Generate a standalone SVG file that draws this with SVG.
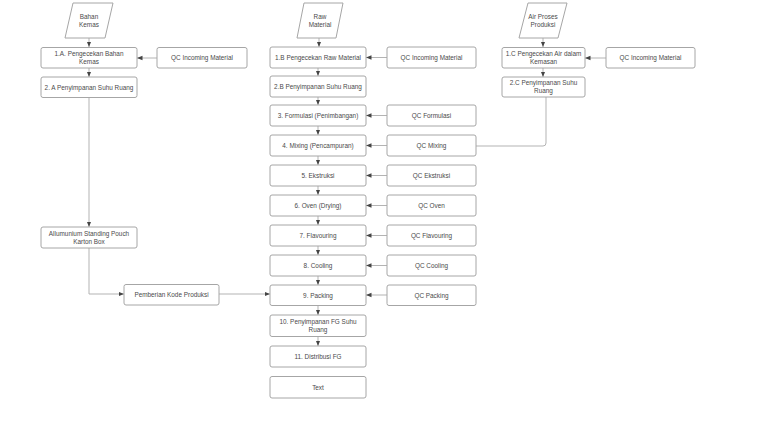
<svg xmlns="http://www.w3.org/2000/svg" width="768" height="433" viewBox="0 0 768 433">
<style>
.b{fill:#fff;stroke:#a6a6a6;stroke-width:1}
.t{font-family:"Liberation Sans",Arial,sans-serif;font-size:6.4px;fill:#4a4a4a;text-anchor:middle}
.c{fill:none;stroke:#b3b3b3;stroke-width:1}
</style>
<defs>
<marker id="ah" markerUnits="userSpaceOnUse" markerWidth="6" markerHeight="6" viewBox="0 0 6 6" refX="5.5" refY="3" orient="auto">
<path d="M0,0.8 L5.5,3 L0,5.2 Z" fill="#444"/>
</marker>
</defs>
<rect width="768" height="433" fill="#fff"/>
<g id="connectors">
<path class="c" d="M89,38 V47" marker-end="url(#ah)"/>
<path class="c" d="M89,68 V77" marker-end="url(#ah)"/>
<path class="c" d="M89,97 V227" marker-end="url(#ah)"/>
<path class="c" d="M89,248 V294 H124" marker-end="url(#ah)"/>
<path class="c" d="M219,294 H270" marker-end="url(#ah)"/>
<path class="c" d="M157,58 H137" marker-end="url(#ah)"/>
<path class="c" d="M319,38 V47" marker-end="url(#ah)"/>
<path class="c" d="M318,68 V76" marker-end="url(#ah)"/>
<path class="c" d="M318,97 V105" marker-end="url(#ah)"/>
<path class="c" d="M318,126 V135" marker-end="url(#ah)"/>
<path class="c" d="M318,156 V165" marker-end="url(#ah)"/>
<path class="c" d="M318,186 V195" marker-end="url(#ah)"/>
<path class="c" d="M318,216 V225" marker-end="url(#ah)"/>
<path class="c" d="M318,246 V255" marker-end="url(#ah)"/>
<path class="c" d="M318,276 V285" marker-end="url(#ah)"/>
<path class="c" d="M318,306 V315" marker-end="url(#ah)"/>
<path class="c" d="M318,336 V346" marker-end="url(#ah)"/>
<path class="c" d="M387,57.5 H366" marker-end="url(#ah)"/>
<path class="c" d="M387,115.5 H366" marker-end="url(#ah)"/>
<path class="c" d="M387,145.5 H366" marker-end="url(#ah)"/>
<path class="c" d="M387,175.5 H366" marker-end="url(#ah)"/>
<path class="c" d="M387,205.5 H366" marker-end="url(#ah)"/>
<path class="c" d="M387,235.5 H366" marker-end="url(#ah)"/>
<path class="c" d="M387,265.5 H366" marker-end="url(#ah)"/>
<path class="c" d="M387,295 H366" marker-end="url(#ah)"/>
<path class="c" d="M543,38 V47" marker-end="url(#ah)"/>
<path class="c" d="M543,68 V77" marker-end="url(#ah)"/>
<path class="c" d="M606,58 H585" marker-end="url(#ah)"/>
<path class="c" d="M546,97 V143 Q546,146 543,146 H476"/>
</g>
<g id="bahan-kemas"><polygon class="b" points="73,3 113,3 105,38 65,38"/><text class="t" x="89" y="18.5">Bahan</text><text class="t" x="89" y="26.5">Kemas</text></g>
<g id="raw-material"><polygon class="b" points="304,3 343,3 336,38 297,38"/><text class="t" x="320" y="18.5">Raw</text><text class="t" x="320" y="26.5">Material</text></g>
<g id="air-proses"><polygon class="b" points="528,3 567,3 558,38 519,38"/><text class="t" x="543" y="18.5">Air Proses</text><text class="t" x="543" y="26.5">Produksi</text></g>

<g id="n1a"><rect class="b" x="41" y="47.5" width="96" height="20.5" rx="2"/><text class="t" x="89" y="56">1.A. Pengecekan Bahan</text><text class="t" x="89" y="64">Kemas</text></g>
<g id="qc-a"><rect class="b" x="157" y="47.5" width="90" height="20.5" rx="2"/><text class="t" x="202" y="60">QC Incoming Material</text></g>
<g id="n2a"><rect class="b" x="41" y="77" width="96" height="20.5" rx="2"/><text class="t" x="89" y="89.5">2. A Penyimpanan Suhu Ruang</text></g>
<g id="pouch"><rect class="b" x="41" y="227" width="96" height="21" rx="2"/><text class="t" x="89" y="235.5">Allumunium Standing Pouch</text><text class="t" x="89" y="243.5">Karton Box</text></g>
<g id="kode"><rect class="b" x="124" y="284.5" width="95" height="20.5" rx="2"/><text class="t" x="171.5" y="297">Pemberian Kode Produksi</text></g>

<g id="n1b"><rect class="b" x="270" y="47" width="96" height="21" rx="2"/><text class="t" x="318" y="60">1.B Pengecekan Raw Material</text></g>
<g id="qc-b"><rect class="b" x="387" y="47" width="89" height="21" rx="2"/><text class="t" x="431.5" y="60">QC Incoming Material</text></g>
<g id="n2b"><rect class="b" x="270" y="76" width="96" height="21" rx="2"/><text class="t" x="318" y="89">2.B Penyimpanan Suhu Ruang</text></g>
<g id="n3"><rect class="b" x="270" y="105" width="96" height="21" rx="2"/><text class="t" x="318" y="118">3. Formulasi (Penimbangan)</text></g>
<g id="qc3"><rect class="b" x="387" y="105" width="89" height="21" rx="2"/><text class="t" x="431.5" y="118">QC Formulasi</text></g>
<g id="n4"><rect class="b" x="270" y="135" width="96" height="21" rx="2"/><text class="t" x="318" y="148">4. Mixing (Pencampuran)</text></g>
<g id="qc4"><rect class="b" x="387" y="135" width="89" height="21" rx="2"/><text class="t" x="431.5" y="148">QC Mixing</text></g>
<g id="n5"><rect class="b" x="270" y="165" width="96" height="21" rx="2"/><text class="t" x="318" y="178">5. Ekstruksi</text></g>
<g id="qc5"><rect class="b" x="387" y="165" width="89" height="21" rx="2"/><text class="t" x="431.5" y="178">QC Ekstruksi</text></g>
<g id="n6"><rect class="b" x="270" y="195" width="96" height="21" rx="2"/><text class="t" x="318" y="208">6. Oven (Drying)</text></g>
<g id="qc6"><rect class="b" x="387" y="195" width="89" height="21" rx="2"/><text class="t" x="431.5" y="208">QC Oven</text></g>
<g id="n7"><rect class="b" x="270" y="225" width="96" height="21" rx="2"/><text class="t" x="318" y="238">7. Flavouring</text></g>
<g id="qc7"><rect class="b" x="387" y="225" width="89" height="21" rx="2"/><text class="t" x="431.5" y="238">QC Flavouring</text></g>
<g id="n8"><rect class="b" x="270" y="255" width="96" height="21" rx="2"/><text class="t" x="318" y="268">8. Cooling</text></g>
<g id="qc8"><rect class="b" x="387" y="255" width="89" height="21" rx="2"/><text class="t" x="431.5" y="268">QC Cooling</text></g>
<g id="n9"><rect class="b" x="270" y="285" width="96" height="20.5" rx="2"/><text class="t" x="318" y="297.5">9. Packing</text></g>
<g id="qc9"><rect class="b" x="387" y="285" width="89" height="20.5" rx="2"/><text class="t" x="431.5" y="297.5">QC Packing</text></g>
<g id="n10"><rect class="b" x="270" y="315" width="96" height="21.5" rx="2"/><text class="t" x="318" y="323.5">10. Penyimpanan FG Suhu</text><text class="t" x="318" y="331.5">Ruang</text></g>
<g id="n11"><rect class="b" x="270" y="346" width="96" height="21" rx="2"/><text class="t" x="318" y="359">11. Distribusi FG</text></g>
<g id="text-box"><rect class="b" x="270" y="376.5" width="96" height="21.5" rx="2"/><text class="t" x="318" y="389.5">Text</text></g>

<g id="n1c"><rect class="b" x="502" y="47.5" width="83" height="20.5" rx="2"/><text class="t" x="543.5" y="56">1.C Pengecekan Air dalam</text><text class="t" x="543.5" y="64">Kemasan</text></g>
<g id="qc-c"><rect class="b" x="606" y="47.5" width="89" height="20.5" rx="2"/><text class="t" x="650.5" y="60">QC Incoming Material</text></g>
<g id="n2c"><rect class="b" x="502" y="77" width="83" height="20" rx="2"/><text class="t" x="543.5" y="85">2.C Penyimpanan Suhu</text><text class="t" x="543.5" y="93">Ruang</text></g>
</svg>
